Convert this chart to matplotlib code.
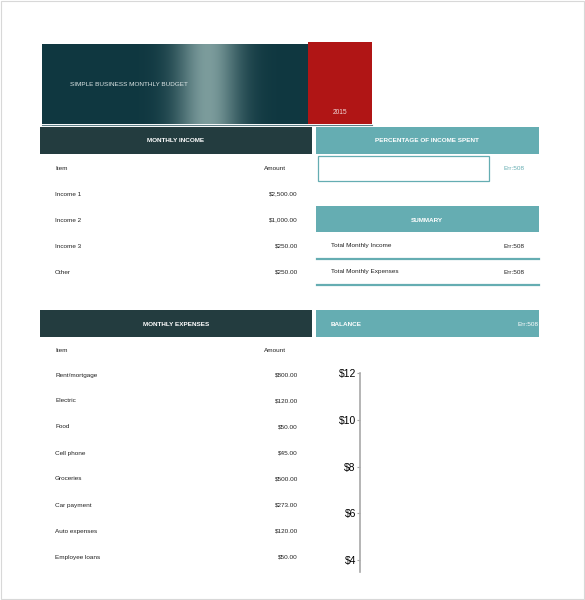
import matplotlib
matplotlib.use("Agg")
import matplotlib.pyplot as plt
import numpy as np
from matplotlib.patches import Rectangle

title = "SIMPLE BUSINESS MONTHLY BUDGET"
year = "2015"
income_items = ["Income 1", "Income 2", "Income 3", "Other"]
income_amounts = ["$2,500.00", "$1,000.00", "$250.00", "$250.00"]
expense_items = ["Rent/mortgage", "Electric", "Food", "Cell phone", "Groceries",
                 "Car payment", "Auto expenses", "Employee loans"]
expense_amounts = ["$800.00", "$120.00", "$50.00", "$45.00", "$500.00",
                   "$273.00", "$120.00", "$50.00"]
summary_labels = ["Total Monthly Income", "Total Monthly Expenses"]
summary_values = ["Err:508", "Err:508"]
y_ticks = [4, 6, 8, 10, 12]
y_labels = ["$4", "$6", "$8", "$10", "$12"]

DARK = "#233c3f"
TEAL = "#65adb2"
W, H = 585, 600
fig = plt.figure(figsize=(5.85, 6.0), dpi=100)
ax = fig.add_axes([0, 0, 1, 1])
ax.set_xlim(0, W); ax.set_ylim(H, 0); ax.axis("off")
FONT = "Liberation Sans"
fs = 4.6

def rect(x0, y0, x1, y1, fc, ec="none", lw=0, z=1):
    ax.add_patch(Rectangle((x0, y0), x1 - x0, y1 - y0, fc=fc, ec=ec, lw=lw, zorder=z))

def txt(x, y, s, ha="left", color="#222222", size=fs, weight="normal"):
    ax.text(x, y, s, ha=ha, va="center", color=color, fontsize=size,
            family=FONT, weight=weight, zorder=5)

rect(1, 1, 584, 599, "none", ec="#d8d8d8", lw=0.8)

xs = np.linspace(42, 308, 300)
g = np.exp(-((xs - 208) / 32) ** 2)
base = np.array([0x0f, 0x37, 0x40]) / 255
light = np.array([0x7c, 0x9c, 0x9c]) / 255
img = base[None, :] * (1 - g[:, None]) + light[None, :] * g[:, None]
ax.imshow(img[None, :, :], extent=(42, 308, 124, 44), aspect="auto", zorder=1)
rect(308, 42, 372, 124, "#b01515", z=2)
ax.plot([42, 372], [124.5, 124.5], color="#5d7f86", lw=0.8, zorder=3)
txt(70, 84, title, color="#dde6e6", size=4.6)
txt(340, 112, year, ha="center", color="#f0dada", size=4.8)

rect(40, 127, 312, 154, DARK)
txt(176, 141, "MONTHLY INCOME", ha="center", color="white", weight="bold")
txt(55, 168, "Item"); txt(286, 168, "Amount", ha="right")
for i, (it, am) in enumerate(zip(income_items, income_amounts)):
    y = 194 + 26 * i
    txt(55, y, it); txt(298, y, am, ha="right")

rect(316, 127, 539, 154, TEAL)
txt(427, 141, "PERCENTAGE OF INCOME SPENT", ha="center", color="white", weight="bold")
rect(318, 156, 489, 181, "none", ec=TEAL, lw=0.9)
txt(514, 168, "Err:508", ha="center", color=TEAL)

rect(316, 206, 539, 232, TEAL)
txt(427, 220, "SUMMARY", ha="center", color="white", weight="bold")
for i, (lab, v) in enumerate(zip(summary_labels, summary_values)):
    y = 246 + 26 * i
    txt(331, y, lab); txt(525, y, v, ha="right")
    ax.plot([317, 539], [y + 13, y + 13], color=TEAL, lw=1.6, zorder=3)

rect(40, 310, 312, 337, DARK)
txt(176, 324, "MONTHLY EXPENSES", ha="center", color="white", weight="bold")
txt(55, 350, "Item"); txt(286, 350, "Amount", ha="right")
for i, (it, am) in enumerate(zip(expense_items, expense_amounts)):
    y = 375 + 26 * i
    txt(55, y, it); txt(298, y, am, ha="right")

rect(316, 310, 539, 337, TEAL)
txt(331, 324, "BALANCE", color="white", weight="bold")
txt(539, 324, "Err:508", ha="right", color="white")

cax = fig.add_axes([360 / W, 1 - 572 / H, 170 / W, (572 - 373) / H])
cax.set_ylim(3.5, 12)
cax.set_xlim(0, 1)
cax.set_yticks(y_ticks)
cax.set_yticklabels(y_labels, family=FONT, fontsize=7.5)
cax.set_xticks([])
for s in ["top", "right", "bottom"]:
    cax.spines[s].set_visible(False)
cax.spines["left"].set_color("#a8a8a8")
cax.spines["left"].set_linewidth(1.2)
cax.tick_params(axis="y", length=2, width=0.8, color="#a8a8a8", pad=1)
cax.patch.set_alpha(0)

fig.savefig("out.png", dpi=100)
